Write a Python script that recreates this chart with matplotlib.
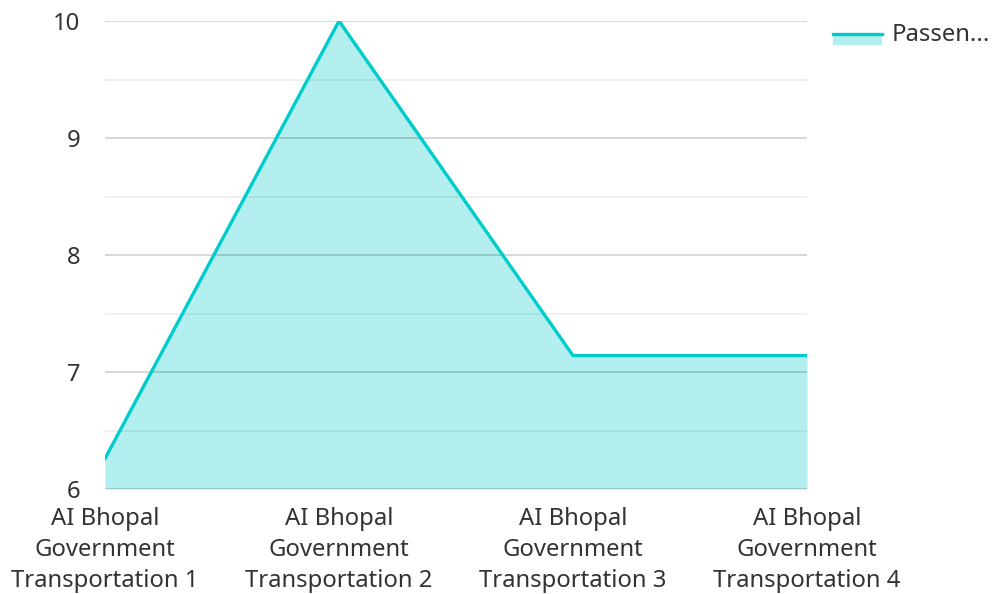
import matplotlib
matplotlib.use("Agg")
import matplotlib.pyplot as plt
from matplotlib.patches import Rectangle
from matplotlib.lines import Line2D

categories = ["AI Bhopal\nGovernment\nTransportation 1",
              "AI Bhopal\nGovernment\nTransportation 2",
              "AI Bhopal\nGovernment\nTransportation 3",
              "AI Bhopal\nGovernment\nTransportation 4"]
values = [6.26, 10.0, 7.14, 7.14]
series_name = "Passen..."
y_ticks = [6, 7, 8, 9, 10]

plt.rcParams['font.family'] = ['Noto Sans', 'DejaVu Sans']
line_color = "#00CCCC"
fill_color = "#B2EFEE"
text_color = "#333333"
fs = 17.2

W, H = 994, 594
fig = plt.figure(figsize=(W / 100, H / 100), dpi=100)
ax = fig.add_axes([105 / W, 1 - 489 / H, (807 - 105) / W, (489 - 21) / H])

x = list(range(len(categories)))
ax.fill_between(x, values, 6, color=fill_color, linewidth=0, zorder=1)
ax.plot(x, values, color=line_color, linewidth=2.4, zorder=3, solid_joinstyle='miter')

ax.set_xlim(0, len(categories) - 1)
ax.set_ylim(6, 10)
ax.set_yticks(y_ticks)
ax.set_yticks([6.5, 7.5, 8.5, 9.5], minor=True)
ax.set_yticklabels([str(t) for t in y_ticks])
ax.set_xticks(x)
ax.set_xticklabels(categories, linespacing=1.39)

ax.set_axisbelow(False)
ax.grid(axis='y', which='major', color='#000000', alpha=0.2, linewidth=1.1, zorder=2)
ax.grid(axis='y', which='minor', color='#000000', alpha=0.08, linewidth=1.1, zorder=2)
ax.grid(axis='x', visible=False)

for s in ax.spines.values():
    s.set_visible(False)
ax.tick_params(axis='both', which='both', length=0, labelsize=fs, colors=text_color)
ax.tick_params(axis='y', pad=18)
ax.tick_params(axis='x', pad=13)
for lbl in ax.get_yticklabels():
    lbl.set_horizontalalignment('right')

# legend
lx0, lx1, ly0, ly1 = 833, 882, 34, 45
fig.add_artist(Rectangle((lx0 / W, 1 - ly1 / H), (lx1 - lx0) / W, (ly1 - ly0) / H,
                         transform=fig.transFigure, facecolor=fill_color, edgecolor='none'))
fig.add_artist(Line2D([lx0 / W, lx1 / W], [1 - ly0 / H, 1 - ly0 / H],
                      transform=fig.transFigure, color=line_color, linewidth=2.4))
fig.text(892 / W, 1 - 35 / H, series_name, fontsize=fs, color=text_color,
         ha='left', va='center')

fig.savefig("out.png", dpi=100, facecolor='white')
